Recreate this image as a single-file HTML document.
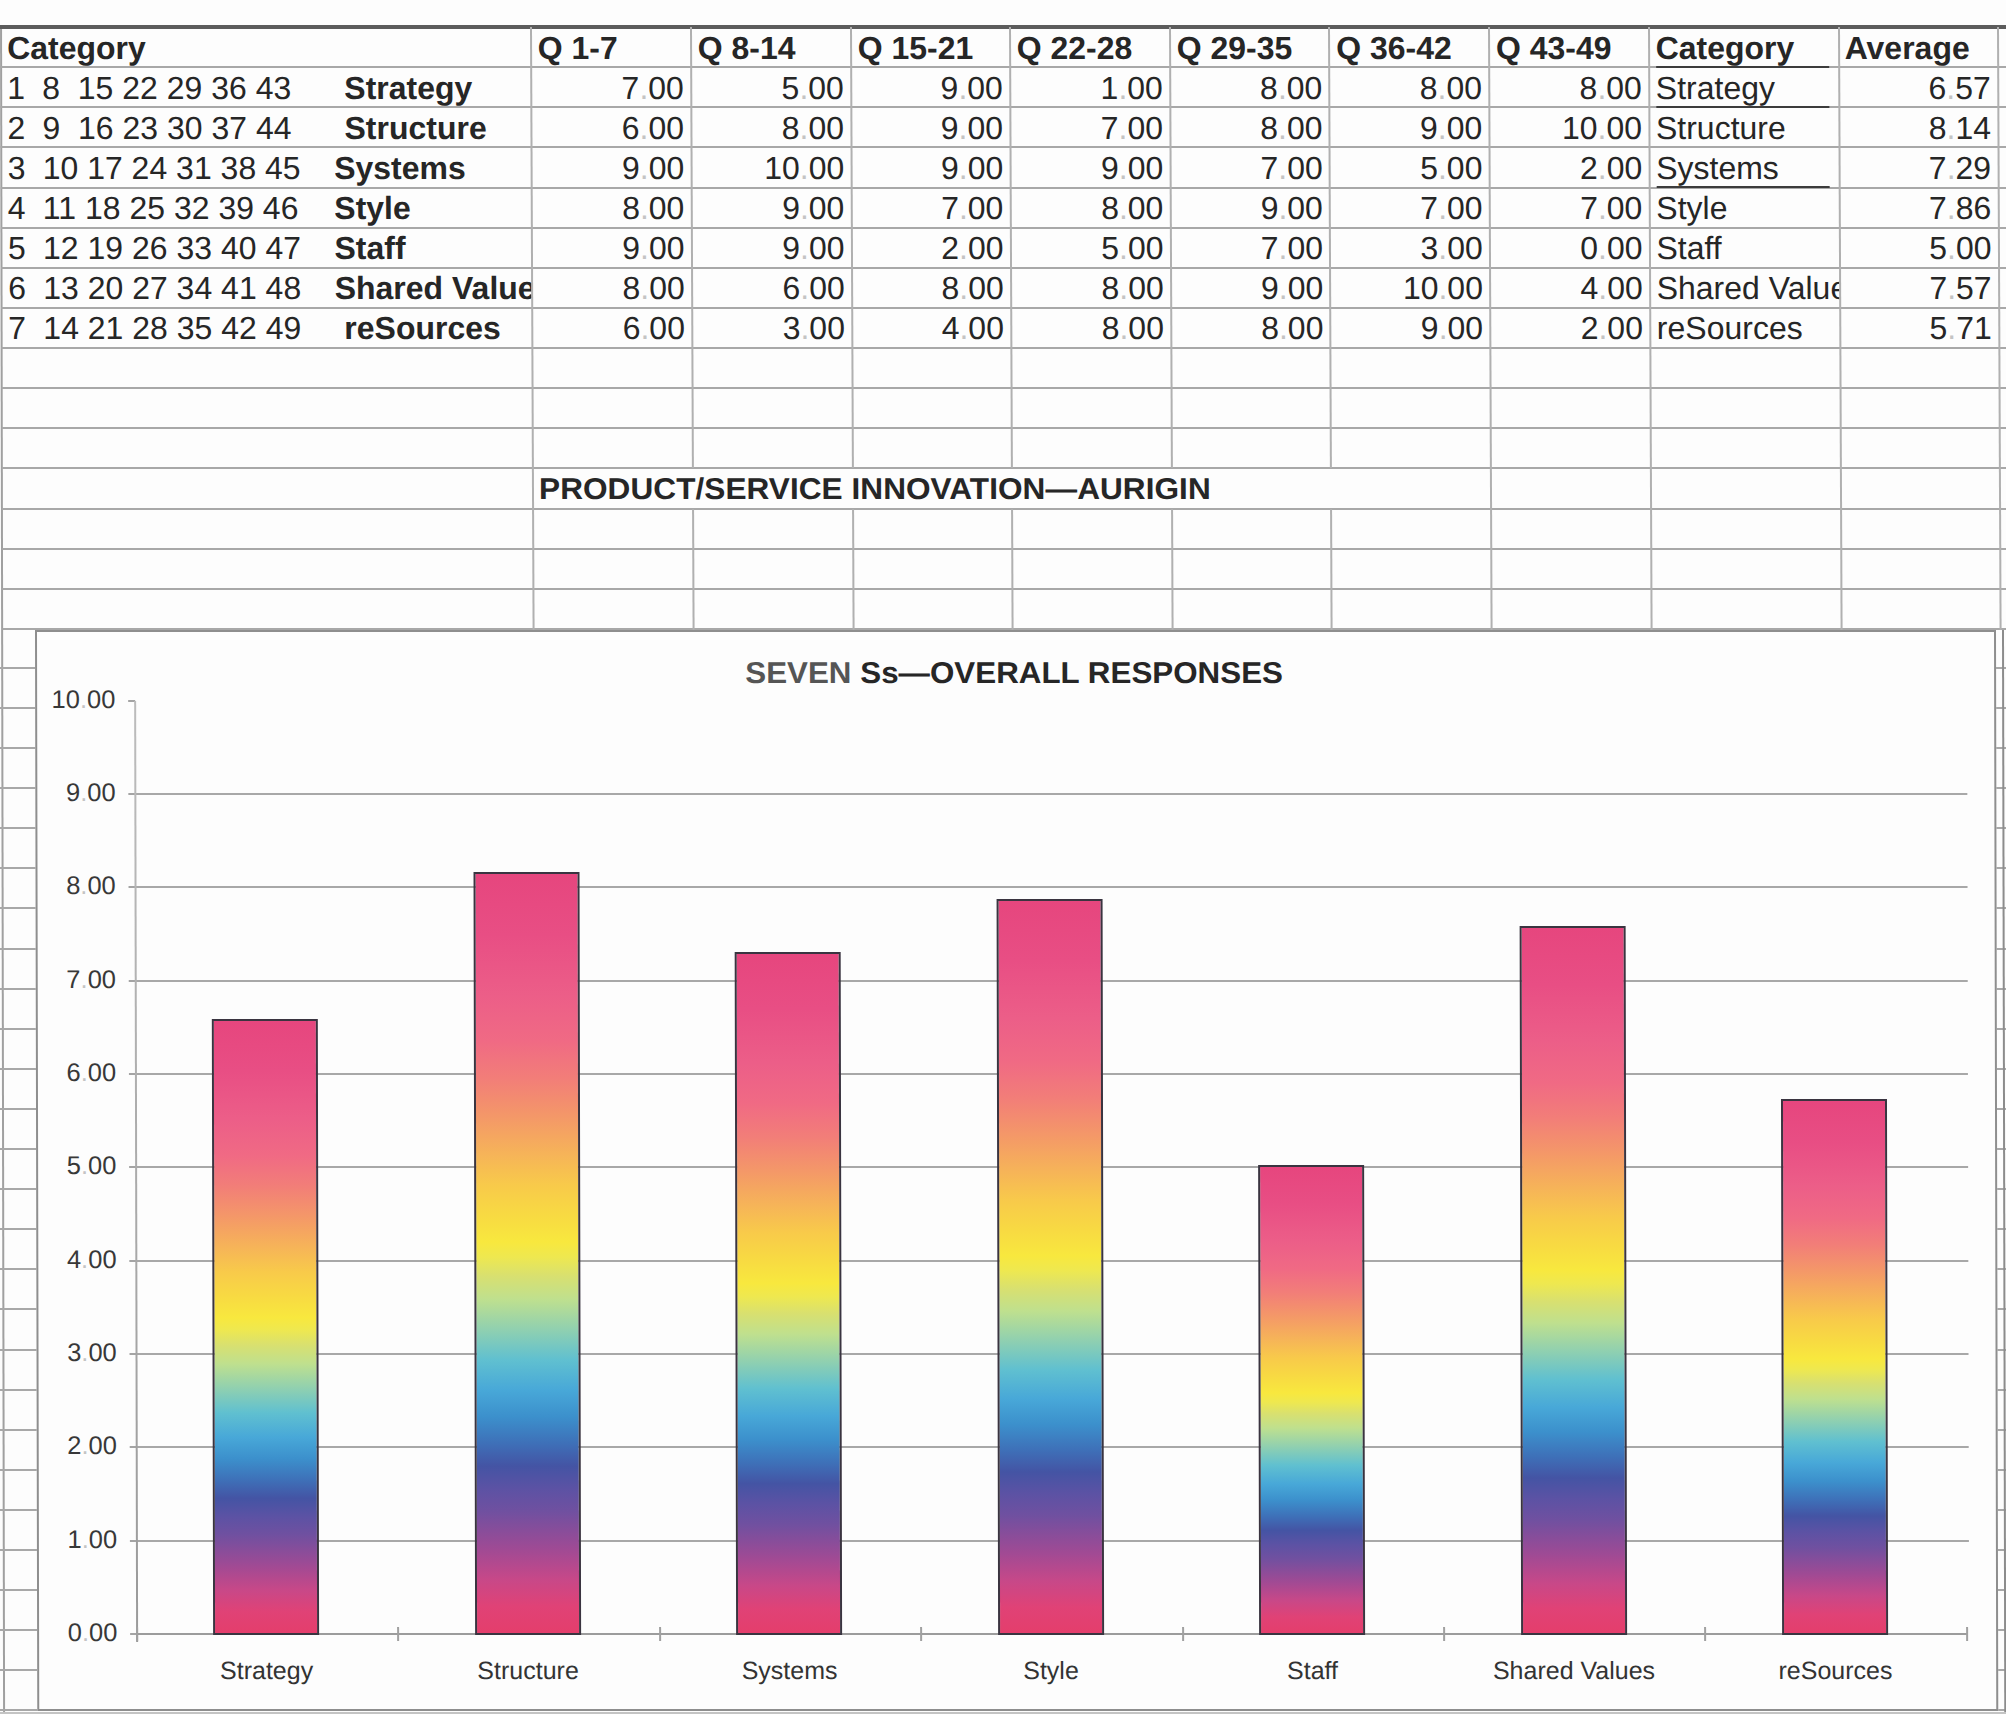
<!DOCTYPE html><html><head><meta charset="utf-8"><style>
html,body{margin:0;padding:0;background:#fdfdfd;}
body{width:2006px;height:1714px;position:relative;overflow:hidden;font-family:"Liberation Sans", sans-serif;color:#262626;}
.h{position:absolute;height:2px;background:#a8a8a8;}
.v{position:absolute;width:2px;background:#b0b0b0;}
.t{position:absolute;font-size:32px;line-height:40px;white-space:nowrap;}
.b{font-weight:bold;}
.r{text-align:right;}
.cl{position:absolute;overflow:hidden;white-space:nowrap;font-size:32px;line-height:40px;}
.yl{position:absolute;font-size:25.5px;line-height:28px;color:#383838;text-align:right;width:100px;}
.xl{position:absolute;width:300px;top:1653px;text-align:center;font-size:25px;line-height:34px;color:#333;}
.bar{position:absolute;border:2px solid #3a3440;box-sizing:border-box;}
.sec{position:absolute;left:0;top:0;width:2006px;height:1714px;}

</style></head><body>
<div class="sec" style="transform:skewX(0.1031deg);transform-origin:0 0">
<div class="v" style="left:0px;top:25px;width:2px;height:1689px;background:#a0a0a0"></div>
</div>
<div class="h" style="left:0;top:666.8px;width:37px"></div>
<div class="h" style="left:1995px;top:666.8px;width:11px"></div>
<div class="h" style="left:0;top:706.9px;width:37px"></div>
<div class="h" style="left:1995px;top:706.9px;width:11px"></div>
<div class="h" style="left:0;top:747.0px;width:37px"></div>
<div class="h" style="left:1995px;top:747.0px;width:11px"></div>
<div class="h" style="left:0;top:787.1px;width:37px"></div>
<div class="h" style="left:1995px;top:787.1px;width:11px"></div>
<div class="h" style="left:0;top:827.2px;width:37px"></div>
<div class="h" style="left:1995px;top:827.2px;width:11px"></div>
<div class="h" style="left:0;top:867.3px;width:37px"></div>
<div class="h" style="left:1995px;top:867.3px;width:11px"></div>
<div class="h" style="left:0;top:907.4px;width:37px"></div>
<div class="h" style="left:1995px;top:907.4px;width:11px"></div>
<div class="h" style="left:0;top:947.5px;width:37px"></div>
<div class="h" style="left:1995px;top:947.5px;width:11px"></div>
<div class="h" style="left:0;top:987.6px;width:37px"></div>
<div class="h" style="left:1995px;top:987.6px;width:11px"></div>
<div class="h" style="left:0;top:1027.7px;width:37px"></div>
<div class="h" style="left:1995px;top:1027.7px;width:11px"></div>
<div class="h" style="left:0;top:1067.8px;width:37px"></div>
<div class="h" style="left:1995px;top:1067.8px;width:11px"></div>
<div class="h" style="left:0;top:1107.9px;width:37px"></div>
<div class="h" style="left:1995px;top:1107.9px;width:11px"></div>
<div class="h" style="left:0;top:1148.0px;width:37px"></div>
<div class="h" style="left:1995px;top:1148.0px;width:11px"></div>
<div class="h" style="left:0;top:1188.1px;width:37px"></div>
<div class="h" style="left:1995px;top:1188.1px;width:11px"></div>
<div class="h" style="left:0;top:1228.2px;width:37px"></div>
<div class="h" style="left:1995px;top:1228.2px;width:11px"></div>
<div class="h" style="left:0;top:1268.3px;width:37px"></div>
<div class="h" style="left:1995px;top:1268.3px;width:11px"></div>
<div class="h" style="left:0;top:1308.4px;width:37px"></div>
<div class="h" style="left:1995px;top:1308.4px;width:11px"></div>
<div class="h" style="left:0;top:1348.5px;width:37px"></div>
<div class="h" style="left:1995px;top:1348.5px;width:11px"></div>
<div class="h" style="left:0;top:1388.6px;width:37px"></div>
<div class="h" style="left:1995px;top:1388.6px;width:11px"></div>
<div class="h" style="left:0;top:1428.7px;width:37px"></div>
<div class="h" style="left:1995px;top:1428.7px;width:11px"></div>
<div class="h" style="left:0;top:1468.8px;width:37px"></div>
<div class="h" style="left:1995px;top:1468.8px;width:11px"></div>
<div class="h" style="left:0;top:1508.9px;width:37px"></div>
<div class="h" style="left:1995px;top:1508.9px;width:11px"></div>
<div class="h" style="left:0;top:1549.0px;width:37px"></div>
<div class="h" style="left:1995px;top:1549.0px;width:11px"></div>
<div class="h" style="left:0;top:1589.1px;width:37px"></div>
<div class="h" style="left:1995px;top:1589.1px;width:11px"></div>
<div class="h" style="left:0;top:1629.2px;width:37px"></div>
<div class="h" style="left:1995px;top:1629.2px;width:11px"></div>
<div class="h" style="left:0;top:1669.3px;width:37px"></div>
<div class="h" style="left:1995px;top:1669.3px;width:11px"></div>
<div class="h" style="left:0;top:1709.4px;width:37px"></div>
<div class="h" style="left:1995px;top:1709.4px;width:11px"></div>
<div class="sec" style="transform:skewX(0.1203deg);transform-origin:0 630px">
<div class="v" style="left:2001.5px;top:628px;height:1086px;background:#8c8c8c"></div>
</div>
<div class="sec" style="transform:skewX(0.2464deg);transform-origin:0 27px">
<div style="position:absolute;left:0;top:25px;width:2006px;height:4px;background:#5c5c5c"></div>
<div class="h" style="left:0;top:66.1px;width:2006px"></div>
<div class="h" style="left:0;top:106.3px;width:2006px"></div>
<div class="h" style="left:0;top:146.4px;width:2006px"></div>
<div class="h" style="left:0;top:186.5px;width:2006px"></div>
<div class="h" style="left:0;top:226.7px;width:2006px"></div>
<div class="h" style="left:0;top:266.8px;width:2006px"></div>
<div class="h" style="left:0;top:306.9px;width:2006px"></div>
<div class="h" style="left:0;top:347.0px;width:2006px"></div>
<div class="h" style="left:0;top:387.2px;width:2006px"></div>
<div class="h" style="left:0;top:427.3px;width:2006px"></div>
<div class="h" style="left:0;top:467.4px;width:2006px"></div>
<div class="h" style="left:0;top:507.6px;width:2006px"></div>
<div class="h" style="left:0;top:547.7px;width:2006px"></div>
<div class="h" style="left:0;top:587.8px;width:2006px"></div>
<div class="h" style="left:0;top:628.0px;width:2006px"></div>
<div class="v" style="left:529.6px;top:27px;height:603px"></div>
<div class="v" style="left:689.6px;top:27px;height:441.4px"></div>
<div class="v" style="left:689.6px;top:508.6px;height:121.4px"></div>
<div class="v" style="left:849.6px;top:27px;height:441.4px"></div>
<div class="v" style="left:849.6px;top:508.6px;height:121.4px"></div>
<div class="v" style="left:1008.6px;top:27px;height:441.4px"></div>
<div class="v" style="left:1008.6px;top:508.6px;height:121.4px"></div>
<div class="v" style="left:1168.6px;top:27px;height:441.4px"></div>
<div class="v" style="left:1168.6px;top:508.6px;height:121.4px"></div>
<div class="v" style="left:1328.1px;top:27px;height:441.4px"></div>
<div class="v" style="left:1328.1px;top:508.6px;height:121.4px"></div>
<div class="v" style="left:1487.8px;top:27px;height:603px"></div>
<div class="v" style="left:1647.6px;top:27px;height:603px"></div>
<div class="v" style="left:1837.6px;top:27px;height:603px"></div>
<div class="v" style="left:1997.4px;top:27px;height:603px"></div>
<div style="position:absolute;left:1656px;top:65.6px;width:173px;height:2px;background:#3c3c3c"></div>
<div style="position:absolute;left:1656px;top:105.8px;width:173px;height:2px;background:#3c3c3c"></div>
<div style="position:absolute;left:1656px;top:186.0px;width:173px;height:2px;background:#3c3c3c"></div>
<div class="t b" style="left:7px;top:27.5px">Category</div>
<div class="t b" style="left:537.6px;top:27.5px">Q 1-7</div>
<div class="t b" style="left:697.6px;top:27.5px">Q 8-14</div>
<div class="t b" style="left:857.6px;top:27.5px">Q 15-21</div>
<div class="t b" style="left:1016.6px;top:27.5px">Q 22-28</div>
<div class="t b" style="left:1176.6px;top:27.5px">Q 29-35</div>
<div class="t b" style="left:1336.1px;top:27.5px">Q 36-42</div>
<div class="t b" style="left:1495.8px;top:27.5px">Q 43-49</div>
<div class="t b" style="left:1655.5px;top:27.5px">Category</div>
<div class="t b" style="left:1844.5px;top:27.5px">Average</div>
<div class="t" style="left:7.0px;top:67.6px">1</div>
<div class="t" style="left:42.0px;top:67.6px">8</div>
<div class="t" style="left:77.5px;top:67.6px">15 22 29 36 43</div>
<div class="cl b" style="left:344.0px;top:67.6px;width:185.6px">Strategy</div>
<div class="t r" style="left:483.6px;width:200px;top:67.6px">7<span style="color:#c4c4c4">.</span>00</div>
<div class="t r" style="left:643.6px;width:200px;top:67.6px">5<span style="color:#c4c4c4">.</span>00</div>
<div class="t r" style="left:802.6px;width:200px;top:67.6px">9<span style="color:#c4c4c4">.</span>00</div>
<div class="t r" style="left:962.6px;width:200px;top:67.6px">1<span style="color:#c4c4c4">.</span>00</div>
<div class="t r" style="left:1122.1px;width:200px;top:67.6px">8<span style="color:#c4c4c4">.</span>00</div>
<div class="t r" style="left:1281.8px;width:200px;top:67.6px">8<span style="color:#c4c4c4">.</span>00</div>
<div class="t r" style="left:1441.6px;width:200px;top:67.6px">8<span style="color:#c4c4c4">.</span>00</div>
<div class="cl" style="left:1655.5px;top:67.6px;width:182.1px">Strategy</div>
<div class="t r" style="left:1790.5px;width:200px;top:67.6px">6<span style="color:#c4c4c4">.</span>57</div>
<div class="t" style="left:7.0px;top:107.8px">2</div>
<div class="t" style="left:42.0px;top:107.8px">9</div>
<div class="t" style="left:77.5px;top:107.8px">16 23 30 37 44</div>
<div class="cl b" style="left:344.0px;top:107.8px;width:185.6px">Structure</div>
<div class="t r" style="left:483.6px;width:200px;top:107.8px">6<span style="color:#c4c4c4">.</span>00</div>
<div class="t r" style="left:643.6px;width:200px;top:107.8px">8<span style="color:#c4c4c4">.</span>00</div>
<div class="t r" style="left:802.6px;width:200px;top:107.8px">9<span style="color:#c4c4c4">.</span>00</div>
<div class="t r" style="left:962.6px;width:200px;top:107.8px">7<span style="color:#c4c4c4">.</span>00</div>
<div class="t r" style="left:1122.1px;width:200px;top:107.8px">8<span style="color:#c4c4c4">.</span>00</div>
<div class="t r" style="left:1281.8px;width:200px;top:107.8px">9<span style="color:#c4c4c4">.</span>00</div>
<div class="t r" style="left:1441.6px;width:200px;top:107.8px">10<span style="color:#c4c4c4">.</span>00</div>
<div class="cl" style="left:1655.5px;top:107.8px;width:182.1px">Structure</div>
<div class="t r" style="left:1790.5px;width:200px;top:107.8px">8<span style="color:#c4c4c4">.</span>14</div>
<div class="t" style="left:7.0px;top:147.9px">3</div>
<div class="t" style="left:42.0px;top:147.9px">10 17 24 31 38 45</div>
<div class="cl b" style="left:333.5px;top:147.9px;width:196.1px">Systems</div>
<div class="t r" style="left:483.6px;width:200px;top:147.9px">9<span style="color:#c4c4c4">.</span>00</div>
<div class="t r" style="left:643.6px;width:200px;top:147.9px">10<span style="color:#c4c4c4">.</span>00</div>
<div class="t r" style="left:802.6px;width:200px;top:147.9px">9<span style="color:#c4c4c4">.</span>00</div>
<div class="t r" style="left:962.6px;width:200px;top:147.9px">9<span style="color:#c4c4c4">.</span>00</div>
<div class="t r" style="left:1122.1px;width:200px;top:147.9px">7<span style="color:#c4c4c4">.</span>00</div>
<div class="t r" style="left:1281.8px;width:200px;top:147.9px">5<span style="color:#c4c4c4">.</span>00</div>
<div class="t r" style="left:1441.6px;width:200px;top:147.9px">2<span style="color:#c4c4c4">.</span>00</div>
<div class="cl" style="left:1655.5px;top:147.9px;width:182.1px">Systems</div>
<div class="t r" style="left:1790.5px;width:200px;top:147.9px">7<span style="color:#c4c4c4">.</span>29</div>
<div class="t" style="left:7.0px;top:188.0px">4</div>
<div class="t" style="left:42.0px;top:188.0px">11 18 25 32 39 46</div>
<div class="cl b" style="left:333.5px;top:188.0px;width:196.1px">Style</div>
<div class="t r" style="left:483.6px;width:200px;top:188.0px">8<span style="color:#c4c4c4">.</span>00</div>
<div class="t r" style="left:643.6px;width:200px;top:188.0px">9<span style="color:#c4c4c4">.</span>00</div>
<div class="t r" style="left:802.6px;width:200px;top:188.0px">7<span style="color:#c4c4c4">.</span>00</div>
<div class="t r" style="left:962.6px;width:200px;top:188.0px">8<span style="color:#c4c4c4">.</span>00</div>
<div class="t r" style="left:1122.1px;width:200px;top:188.0px">9<span style="color:#c4c4c4">.</span>00</div>
<div class="t r" style="left:1281.8px;width:200px;top:188.0px">7<span style="color:#c4c4c4">.</span>00</div>
<div class="t r" style="left:1441.6px;width:200px;top:188.0px">7<span style="color:#c4c4c4">.</span>00</div>
<div class="cl" style="left:1655.5px;top:188.0px;width:182.1px">Style</div>
<div class="t r" style="left:1790.5px;width:200px;top:188.0px">7<span style="color:#c4c4c4">.</span>86</div>
<div class="t" style="left:7.0px;top:228.2px">5</div>
<div class="t" style="left:42.0px;top:228.2px">12 19 26 33 40 47</div>
<div class="cl b" style="left:333.5px;top:228.2px;width:196.1px">Staff</div>
<div class="t r" style="left:483.6px;width:200px;top:228.2px">9<span style="color:#c4c4c4">.</span>00</div>
<div class="t r" style="left:643.6px;width:200px;top:228.2px">9<span style="color:#c4c4c4">.</span>00</div>
<div class="t r" style="left:802.6px;width:200px;top:228.2px">2<span style="color:#c4c4c4">.</span>00</div>
<div class="t r" style="left:962.6px;width:200px;top:228.2px">5<span style="color:#c4c4c4">.</span>00</div>
<div class="t r" style="left:1122.1px;width:200px;top:228.2px">7<span style="color:#c4c4c4">.</span>00</div>
<div class="t r" style="left:1281.8px;width:200px;top:228.2px">3<span style="color:#c4c4c4">.</span>00</div>
<div class="t r" style="left:1441.6px;width:200px;top:228.2px">0<span style="color:#c4c4c4">.</span>00</div>
<div class="cl" style="left:1655.5px;top:228.2px;width:182.1px">Staff</div>
<div class="t r" style="left:1790.5px;width:200px;top:228.2px">5<span style="color:#c4c4c4">.</span>00</div>
<div class="t" style="left:7.0px;top:268.3px">6</div>
<div class="t" style="left:42.0px;top:268.3px">13 20 27 34 41 48</div>
<div class="cl b" style="left:333.5px;top:268.3px;width:196.1px">Shared Value</div>
<div class="t r" style="left:483.6px;width:200px;top:268.3px">8<span style="color:#c4c4c4">.</span>00</div>
<div class="t r" style="left:643.6px;width:200px;top:268.3px">6<span style="color:#c4c4c4">.</span>00</div>
<div class="t r" style="left:802.6px;width:200px;top:268.3px">8<span style="color:#c4c4c4">.</span>00</div>
<div class="t r" style="left:962.6px;width:200px;top:268.3px">8<span style="color:#c4c4c4">.</span>00</div>
<div class="t r" style="left:1122.1px;width:200px;top:268.3px">9<span style="color:#c4c4c4">.</span>00</div>
<div class="t r" style="left:1281.8px;width:200px;top:268.3px">10<span style="color:#c4c4c4">.</span>00</div>
<div class="t r" style="left:1441.6px;width:200px;top:268.3px">4<span style="color:#c4c4c4">.</span>00</div>
<div class="cl" style="left:1655.5px;top:268.3px;width:182.1px">Shared Value</div>
<div class="t r" style="left:1790.5px;width:200px;top:268.3px">7<span style="color:#c4c4c4">.</span>57</div>
<div class="t" style="left:7.0px;top:308.4px">7</div>
<div class="t" style="left:42.0px;top:308.4px">14 21 28 35 42 49</div>
<div class="cl b" style="left:343.0px;top:308.4px;width:186.6px">reSources</div>
<div class="t r" style="left:483.6px;width:200px;top:308.4px">6<span style="color:#c4c4c4">.</span>00</div>
<div class="t r" style="left:643.6px;width:200px;top:308.4px">3<span style="color:#c4c4c4">.</span>00</div>
<div class="t r" style="left:802.6px;width:200px;top:308.4px">4<span style="color:#c4c4c4">.</span>00</div>
<div class="t r" style="left:962.6px;width:200px;top:308.4px">8<span style="color:#c4c4c4">.</span>00</div>
<div class="t r" style="left:1122.1px;width:200px;top:308.4px">8<span style="color:#c4c4c4">.</span>00</div>
<div class="t r" style="left:1281.8px;width:200px;top:308.4px">9<span style="color:#c4c4c4">.</span>00</div>
<div class="t r" style="left:1441.6px;width:200px;top:308.4px">2<span style="color:#c4c4c4">.</span>00</div>
<div class="cl" style="left:1655.5px;top:308.4px;width:182.1px">reSources</div>
<div class="t r" style="left:1790.5px;width:200px;top:308.4px">5<span style="color:#c4c4c4">.</span>71</div>
<div class="t b" style="left:537.0px;top:469.4px;font-size:30px;transform:scaleX(1.055);transform-origin:0 0">PRODUCT/SERVICE INNOVATION—AURIGIN</div>
</div>
<div class="sec" style="transform:skewX(0.1203deg);transform-origin:0 630px">
<div style="position:absolute;left:35px;top:630px;width:1960.5px;height:1081px;border:2px solid #8e8e8e;box-sizing:border-box;background:#fdfdfd"></div>
<div style="position:absolute;left:0;top:652.5px;width:2028px;text-align:center;font-size:30px;font-weight:bold;line-height:40px;white-space:nowrap;transform:scaleX(1.045);transform-origin:1014px 0"><span style="color:#555">SEVEN</span> Ss—OVERALL RESPONSES</div>
<div class="yl" style="left:15.26px;top:1617.8px">0<span style="color:#c4c4c4">.</span>00</div>
<div class="h" style="left:127.6px;top:1632.8px;width:7px;background:#a4a4a4"></div>
<div class="h" style="left:134.6px;top:1539.5px;width:1832.3px;background:#a8a8a8"></div>
<div class="yl" style="left:15.26px;top:1524.5px">1<span style="color:#c4c4c4">.</span>00</div>
<div class="h" style="left:127.6px;top:1539.5px;width:7px;background:#a4a4a4"></div>
<div class="h" style="left:134.6px;top:1446.2px;width:1832.3px;background:#a8a8a8"></div>
<div class="yl" style="left:15.26px;top:1431.2px">2<span style="color:#c4c4c4">.</span>00</div>
<div class="h" style="left:127.6px;top:1446.2px;width:7px;background:#a4a4a4"></div>
<div class="h" style="left:134.6px;top:1352.9px;width:1832.3px;background:#a8a8a8"></div>
<div class="yl" style="left:15.26px;top:1337.9px">3<span style="color:#c4c4c4">.</span>00</div>
<div class="h" style="left:127.6px;top:1352.9px;width:7px;background:#a4a4a4"></div>
<div class="h" style="left:134.6px;top:1259.6px;width:1832.3px;background:#a8a8a8"></div>
<div class="yl" style="left:15.26px;top:1244.6px">4<span style="color:#c4c4c4">.</span>00</div>
<div class="h" style="left:127.6px;top:1259.6px;width:7px;background:#a4a4a4"></div>
<div class="h" style="left:134.6px;top:1166.3px;width:1832.3px;background:#a8a8a8"></div>
<div class="yl" style="left:15.26px;top:1151.3px">5<span style="color:#c4c4c4">.</span>00</div>
<div class="h" style="left:127.6px;top:1166.3px;width:7px;background:#a4a4a4"></div>
<div class="h" style="left:134.6px;top:1073.0px;width:1832.3px;background:#a8a8a8"></div>
<div class="yl" style="left:15.26px;top:1058.0px">6<span style="color:#c4c4c4">.</span>00</div>
<div class="h" style="left:127.6px;top:1073.0px;width:7px;background:#a4a4a4"></div>
<div class="h" style="left:134.6px;top:979.7px;width:1832.3px;background:#a8a8a8"></div>
<div class="yl" style="left:15.26px;top:964.7px">7<span style="color:#c4c4c4">.</span>00</div>
<div class="h" style="left:127.6px;top:979.7px;width:7px;background:#a4a4a4"></div>
<div class="h" style="left:134.6px;top:886.4px;width:1832.3px;background:#a8a8a8"></div>
<div class="yl" style="left:15.26px;top:871.4px">8<span style="color:#c4c4c4">.</span>00</div>
<div class="h" style="left:127.6px;top:886.4px;width:7px;background:#a4a4a4"></div>
<div class="h" style="left:134.6px;top:793.1px;width:1832.3px;background:#a8a8a8"></div>
<div class="yl" style="left:15.26px;top:778.1px">9<span style="color:#c4c4c4">.</span>00</div>
<div class="h" style="left:127.6px;top:793.1px;width:7px;background:#a4a4a4"></div>
<div class="yl" style="left:15.26px;top:684.8px">10<span style="color:#c4c4c4">.</span>00</div>
<div class="h" style="left:127.6px;top:699.8px;width:7px;background:#a4a4a4"></div>
<div class="v" style="left:133.6px;top:700.8px;height:941.0px;background:linear-gradient(#bcbcbc,#9a9a9a)"></div>
<div class="h" style="left:134.6px;top:1632.8px;width:1830.3px;background:#9c9c9c"></div>
<div class="v" style="left:133.6px;top:1626.8px;height:14px;background:#a0a0a0"></div>
<div class="v" style="left:395.1px;top:1626.8px;height:14px;background:#a0a0a0"></div>
<div class="v" style="left:656.5px;top:1626.8px;height:14px;background:#a0a0a0"></div>
<div class="v" style="left:918.0px;top:1626.8px;height:14px;background:#a0a0a0"></div>
<div class="v" style="left:1179.5px;top:1626.8px;height:14px;background:#a0a0a0"></div>
<div class="v" style="left:1441.0px;top:1626.8px;height:14px;background:#a0a0a0"></div>
<div class="v" style="left:1702.4px;top:1626.8px;height:14px;background:#a0a0a0"></div>
<div class="v" style="left:1963.9px;top:1626.8px;height:14px;background:#a0a0a0"></div>
<div class="bar" style="left:211.1px;top:1018.8px;width:106px;height:616.0px;background:linear-gradient(to bottom,#e6467e 0%,#e84e84 8%,#ec5e88 16%,#f06a84 22%,#f27e78 27%,#f49868 32%,#f6b458 37%,#f8ca4a 41%,#f8da42 45%,#f8e83e 48.5%,#eee850 50.5%,#d8e070 53%,#bfe08e 56%,#90d0b0 60%,#60c0d0 64%,#48a8d8 68%,#3c90cc 71.5%,#3e70b8 75%,#4454a4 78%,#5c52a4 81%,#7050a0 84%,#a04a94 89%,#c84888 93%,#e04276 96.5%,#e43e6c 100%)"></div>
<div class="xl" style="left:114.4px">Strategy</div>
<div class="bar" style="left:472.6px;top:872.3px;width:106px;height:762.5px;background:linear-gradient(to bottom,#e6467e 0%,#e84e84 8%,#ec5e88 16%,#f06a84 22%,#f27e78 27%,#f49868 32%,#f6b458 37%,#f8ca4a 41%,#f8da42 45%,#f8e83e 48.5%,#eee850 50.5%,#d8e070 53%,#bfe08e 56%,#90d0b0 60%,#60c0d0 64%,#48a8d8 68%,#3c90cc 71.5%,#3e70b8 75%,#4454a4 78%,#5c52a4 81%,#7050a0 84%,#a04a94 89%,#c84888 93%,#e04276 96.5%,#e43e6c 100%)"></div>
<div class="xl" style="left:375.9px">Structure</div>
<div class="bar" style="left:734.1px;top:951.6px;width:106px;height:683.2px;background:linear-gradient(to bottom,#e6467e 0%,#e84e84 8%,#ec5e88 16%,#f06a84 22%,#f27e78 27%,#f49868 32%,#f6b458 37%,#f8ca4a 41%,#f8da42 45%,#f8e83e 48.5%,#eee850 50.5%,#d8e070 53%,#bfe08e 56%,#90d0b0 60%,#60c0d0 64%,#48a8d8 68%,#3c90cc 71.5%,#3e70b8 75%,#4454a4 78%,#5c52a4 81%,#7050a0 84%,#a04a94 89%,#c84888 93%,#e04276 96.5%,#e43e6c 100%)"></div>
<div class="xl" style="left:637.4px">Systems</div>
<div class="bar" style="left:995.5px;top:898.5px;width:106px;height:736.3px;background:linear-gradient(to bottom,#e6467e 0%,#e84e84 8%,#ec5e88 16%,#f06a84 22%,#f27e78 27%,#f49868 32%,#f6b458 37%,#f8ca4a 41%,#f8da42 45%,#f8e83e 48.5%,#eee850 50.5%,#d8e070 53%,#bfe08e 56%,#90d0b0 60%,#60c0d0 64%,#48a8d8 68%,#3c90cc 71.5%,#3e70b8 75%,#4454a4 78%,#5c52a4 81%,#7050a0 84%,#a04a94 89%,#c84888 93%,#e04276 96.5%,#e43e6c 100%)"></div>
<div class="xl" style="left:898.8px">Style</div>
<div class="bar" style="left:1257.0px;top:1165.3px;width:106px;height:469.5px;background:linear-gradient(to bottom,#e6467e 0%,#e84e84 8%,#ec5e88 16%,#f06a84 22%,#f27e78 27%,#f49868 32%,#f6b458 37%,#f8ca4a 41%,#f8da42 45%,#f8e83e 48.5%,#eee850 50.5%,#d8e070 53%,#bfe08e 56%,#90d0b0 60%,#60c0d0 64%,#48a8d8 68%,#3c90cc 71.5%,#3e70b8 75%,#4454a4 78%,#5c52a4 81%,#7050a0 84%,#a04a94 89%,#c84888 93%,#e04276 96.5%,#e43e6c 100%)"></div>
<div class="xl" style="left:1160.3px">Staff</div>
<div class="bar" style="left:1518.5px;top:925.5px;width:106px;height:709.3px;background:linear-gradient(to bottom,#e6467e 0%,#e84e84 8%,#ec5e88 16%,#f06a84 22%,#f27e78 27%,#f49868 32%,#f6b458 37%,#f8ca4a 41%,#f8da42 45%,#f8e83e 48.5%,#eee850 50.5%,#d8e070 53%,#bfe08e 56%,#90d0b0 60%,#60c0d0 64%,#48a8d8 68%,#3c90cc 71.5%,#3e70b8 75%,#4454a4 78%,#5c52a4 81%,#7050a0 84%,#a04a94 89%,#c84888 93%,#e04276 96.5%,#e43e6c 100%)"></div>
<div class="xl" style="left:1421.8px">Shared Values</div>
<div class="bar" style="left:1780.0px;top:1099.1px;width:106px;height:535.7px;background:linear-gradient(to bottom,#e6467e 0%,#e84e84 8%,#ec5e88 16%,#f06a84 22%,#f27e78 27%,#f49868 32%,#f6b458 37%,#f8ca4a 41%,#f8da42 45%,#f8e83e 48.5%,#eee850 50.5%,#d8e070 53%,#bfe08e 56%,#90d0b0 60%,#60c0d0 64%,#48a8d8 68%,#3c90cc 71.5%,#3e70b8 75%,#4454a4 78%,#5c52a4 81%,#7050a0 84%,#a04a94 89%,#c84888 93%,#e04276 96.5%,#e43e6c 100%)"></div>
<div class="xl" style="left:1683.3px">reSources</div>
</div>
<div style="position:absolute;left:0;top:1712px;width:2006px;height:2px;background:#c4c4c4"></div>
</body></html>
